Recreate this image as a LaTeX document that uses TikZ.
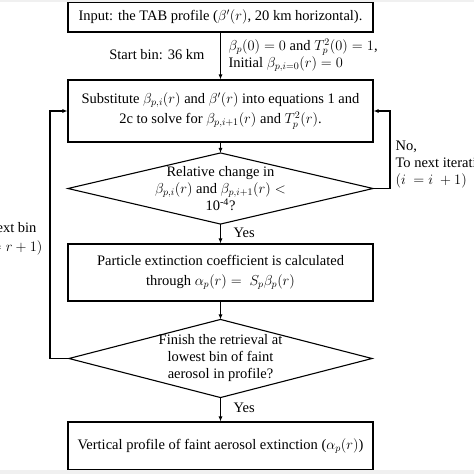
\documentclass[tikz,border=0pt]{standalone}
\usepackage{fontspec}
\setmainfont{Liberation Serif}
\usetikzlibrary{arrows.meta}

\tikzset{every picture/.style={line width=1.1pt}}
\tikzset{
  procbox/.style={draw, minimum width=305pt, minimum height=#1, inner sep=0pt, align=center, font=\fontsize{14.5}{20}\selectfont},
  procbox/.default=50pt,
  decbox/.style={minimum width=304pt, minimum height=70pt, inner sep=0pt, align=center, font=\fontsize{14.5}{17}\selectfont},
  lbl/.style={inner sep=0pt, font=\fontsize{14.5}{17}\selectfont},
  flow/.style={-{Latex[length=5pt,width=4pt]}},
}

\begin{document}
\begin{tikzpicture}[x=1pt,y=1pt,yscale=-1,xscale=1]
\useasboundingbox (0,0) rectangle (474,474);

% Shapes
\node (in) [procbox=30pt] at (220.5,17) {Input: the TAB profile ($\beta'(r)$, 20 km horizontal).};
\node (sub) [procbox=62pt] at (220.5,111) {Substitute $\beta_{p,i}(r)$ and $\beta'(r)$ into equations 1 and\\2c to solve for $\beta_{p,i+1}(r)$ and $T_p^2(r)$.};
\node (rel) [decbox] at (220.5,188.5) {Relative change in\\$\beta_{p,i}(r)$ and $\beta_{p,i+1}(r) <$\\10\textsuperscript{-4}?};
\draw (rel.north) -- (rel.east) -- (rel.south) -- (rel.west) -- cycle;
\node (part) [procbox=57pt] at (220.5,272.5) {Particle extinction coefficient is calculated\\through $\alpha_p(r) =\ S_p\beta_p(r)$};
\node (fin) [decbox, minimum width=302pt, minimum height=77pt] at (220.5,358.5) {Finish the retrieval at\\lowest bin of faint\\aerosol in profile?};
\draw (fin.north) -- (fin.east) -- (fin.south) -- (fin.west) -- cycle;
\node (out) [procbox=48pt] at (220.5,446) {Vertical profile of faint aerosol extinction ($\alpha_p(r)$)};

% Text Node
\node (start) [lbl, anchor=east] at (205,55) {Start bin: 36 km};
\node (init) [lbl, anchor=west, align=left] at (228,55) {$\beta_p(0) = 0$ and $T_p^2(0) = 1$,\\Initial $\beta_{p,i=0}(r) = 0$};
\node (yes1) [lbl, anchor=west] at (233,233) {Yes};
\node (yes2) [lbl, anchor=west] at (233,408) {Yes};
\node (no) [lbl, anchor=west, align=left] at (395,165) {No,\\To next iteration\\$(i\ = i\ + 1)$};
\node (next) [lbl, anchor=east, align=right, font=\fontsize{14.5}{19}\selectfont] at (43,238.5) {Next bin\hspace*{6pt}\\$(r = r + 1)$};

% Connectors
\coordinate (rc) at (390,188.5);
\coordinate (lc) at (50,358.5);
\draw [flow] (in.south) -- (sub.north);
\draw [flow] (sub.south) -- (rel.north);
\draw [flow] (rel.south) -- (part.north);
\draw [flow] (part.south) -- (fin.north);
\draw [flow] (fin.south) -- (out.north);
\draw [flow] (rel.east) -- (rc) |- (sub.east);
\draw [flow] (fin.west) -- (lc) |- (sub.west);

% Edges of the crop
\fill [gray!12] (0,0) rectangle (474,2);
\fill [gray!12] (0,470) rectangle (474,474);

\end{tikzpicture}
\end{document}
